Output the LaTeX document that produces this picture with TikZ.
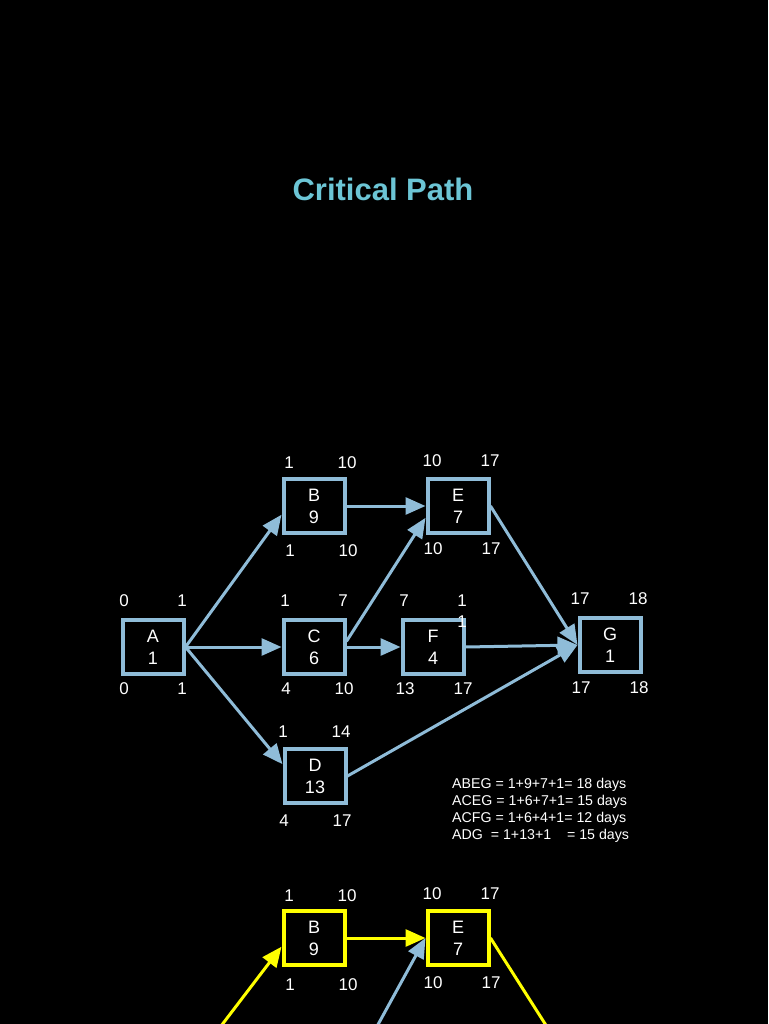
\documentclass[tikz,border=0pt]{standalone}
\usepackage{fontspec}
\setmainfont{Liberation Sans}
\usetikzlibrary{arrows.meta}
\definecolor{lb}{HTML}{8FBCD8}
\definecolor{ttl}{HTML}{6CC5D5}
\definecolor{yl}{HTML}{FFFF00}
\begin{document}
\begin{tikzpicture}[x=1pt,y=-1pt,
  box/.style={draw=lb,line width=4pt,minimum width=61pt,minimum height=54pt,inner sep=0pt,align=center,text=white,font=\fontsize{18}{22}\selectfont},
  ybox/.style={box,draw=yl},
  num/.style={text=white,font=\fontsize{17}{19}\selectfont,inner sep=0pt},
  arr/.style={draw=lb,line width=3pt,-{Triangle[length=20pt,width=17pt]}},
  yarr/.style={arr,draw=yl,fill=yl}]
\fill[black] (0,0) rectangle (768,1024);
\useasboundingbox (0,0) rectangle (768,1024);
\clip (0,0) rectangle (768,1024);
\node[text=ttl,font=\bfseries\fontsize{31}{36}\selectfont] (title) at (383,189) {Critical Path};
\node[box] (A) at (153,647) {A\\1};
\node[box] (B) at (314,506) {B\\9};
\node[box] (C) at (314,647) {C\\6};
\node[box] (D) at (315,776) {D\\13};
\node[box] (E) at (458,506) {E\\7};
\node[box] (F) at (433,647) {F\\4};
\node[box] (G) at (610,645) {G\\1};
% numbers
\node[num] (a1) at (124,601) {0}; \node[num] (a2) at (182,601) {1};
\node[num] (a3) at (124,689) {0}; \node[num] (a4) at (182,689) {1};
\node[num] (b1) at (289,463) {1}; \node[num] (b2) at (347,463) {10};
\node[num] (b3) at (290,551) {1}; \node[num] (b4) at (348,551) {10};
\node[num] (e1) at (432,461) {10}; \node[num] (e2) at (490,461) {17};
\node[num] (e3) at (433,549) {10}; \node[num] (e4) at (491,549) {17};
\node[num] (c1) at (285,601) {1}; \node[num] (c2) at (343,601) {7};
\node[num] (c3) at (286,689) {4}; \node[num] (c4) at (344,689) {10};
\node[num] (f1) at (404,601) {7}; \node[num] (f2) at (462,601) {1};
\node[num] (f5) at (462,622) {1};
\node[num] (f3) at (405,689) {13}; \node[num] (f4) at (463,689) {17};
\node[num] (g1) at (580,599) {17}; \node[num] (g2) at (638,599) {18};
\node[num] (g3) at (581,688) {17}; \node[num] (g4) at (639,688) {18};
\node[num] (d1) at (283,732) {1}; \node[num] (d2) at (341,732) {14};
\node[num] (d3) at (284,821) {4}; \node[num] (d4) at (342,821) {17};
% arrows
\draw[arr,fill=lb] (A.east) -- (B.195);
\draw[arr,fill=lb] (A.east) -- (C.west);
\draw[arr,fill=lb] (A.east) -- (D.160);
\draw[arr,fill=lb] (B.east) -- (E.west);
\draw[arr,fill=lb] (C.10) -- (E.200);
\draw[arr,fill=lb] (C.east) -- (F.west);
\draw[arr,fill=lb] (F.east) -- (G.west);
\draw[arr,fill=lb] (E.east) -- (G.west);
\draw[arr,fill=lb] (D.east) -- (G.west);
% legend
\node[text=white,font=\fontsize{14.2}{17}\selectfont,align=left,anchor=north west,inner sep=0pt] (leg) at (452,778)
 {ABEG = 1+9+7+1= 18 days\\ACEG = 1+6+7+1= 15 days\\ACFG = 1+6+4+1= 12 days\\ADG\ \ = 1+13+1\ \ \ \ = 15 days};
% bottom
\node[ybox] (B2) at (314,938) {B\\9};
\node[ybox] (E2) at (458,938) {E\\7};
\node[num] (bb1) at (289,896) {1}; \node[num] (bb2) at (347,896) {10};
\node[num] (bb3) at (290,985) {1}; \node[num] (bb4) at (348,985) {10};
\node[num] (eb1) at (432,894) {10}; \node[num] (eb2) at (490,894) {17};
\node[num] (eb3) at (433,983) {10}; \node[num] (eb4) at (491,983) {17};
\coordinate (p1) at (218,1030);
\coordinate (p2) at (375,1030);
\coordinate (p3) at (549,1030);
\draw[yarr] (p1) -- (B2.195);
\draw[arr,fill=lb] (p2) -- (E2.west);
\draw[yl,line width=3pt] (E2.east) -- (p3);
\draw[yarr] (B2.east) -- (E2.west);
\end{tikzpicture}
\end{document}
